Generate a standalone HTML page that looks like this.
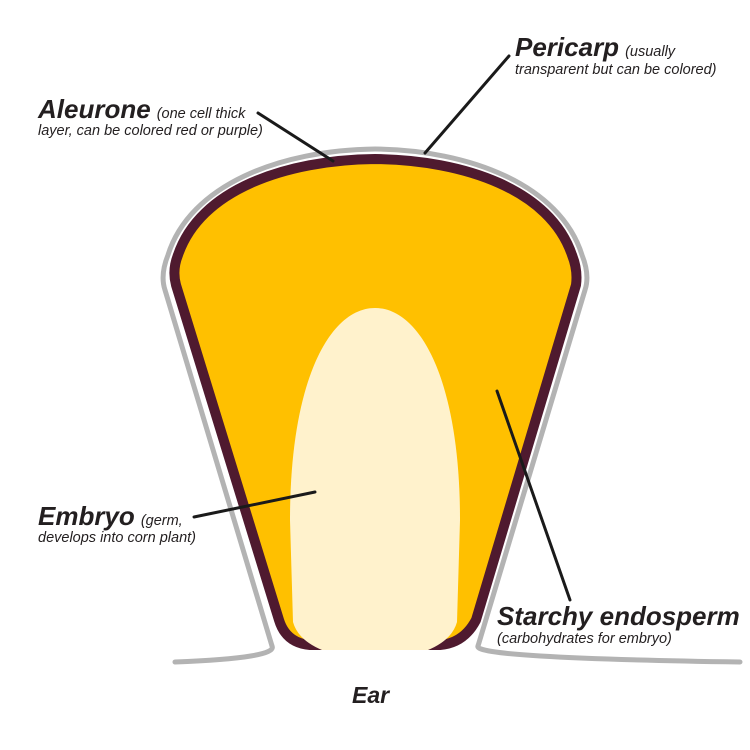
<!DOCTYPE html>
<html><head><meta charset="utf-8"><style>
html,body{margin:0;padding:0;background:#fff}
svg{display:block}
text{font-family:"Liberation Sans",sans-serif;fill:#231f20;font-style:italic}
.b{font-weight:bold;font-size:26px}
.s{font-size:14.5px}
</style></head><body>
<svg width="750" height="750" viewBox="0 0 750 750" xmlns="http://www.w3.org/2000/svg">
<path d="M272 646 L165 290 Q160 275 168 255 C190 185 280 150 375 149 C470 150 560 185 582 255 Q590 275 585 290 L478 646" fill="none" stroke="#b3b3b3" stroke-width="5" stroke-linejoin="round"/>
<path d="M272 646 Q278 658 175 662" fill="none" stroke="#b3b3b3" stroke-width="5" stroke-linecap="round"/>
<path d="M478 646 Q472 658 740 662" fill="none" stroke="#b3b3b3" stroke-width="5" stroke-linecap="round"/>
<path d="M375 159 C465 160 550 190 572 255 Q578 270 576 285 L476 620 Q464 643 440 645 L310 645 Q286 643 279 620 L176 285 Q172 270 178 255 C200 190 285 160 375 159 Z" fill="#ffc000" stroke="#4f1a2f" stroke-width="10" stroke-linejoin="round"/>
<path d="M290 520 C290 380 330 308 375 308 C420 308 460 380 460 520 L457 622 Q452 640 428 650 L322 650 Q298 640 293 622 Z" fill="#fff2cc"/>
<g stroke="#1a1a1a" stroke-width="3" stroke-linecap="round">
<line x1="258" y1="113" x2="333" y2="161"/>
<line x1="509" y1="56" x2="425" y2="153"/>
<line x1="194" y1="517" x2="315" y2="492"/>
<line x1="497" y1="391" x2="570" y2="600"/>
</g>
<text x="38" y="118"><tspan class="b">Aleurone</tspan><tspan class="s" dx="6">(one cell thick</tspan></text>
<text x="38" y="135" class="s">layer, can be colored red or purple)</text>
<text x="515" y="56"><tspan class="b">Pericarp</tspan><tspan class="s" dx="6">(usually</tspan></text>
<text x="515" y="74" class="s">transparent but can be colored)</text>
<text x="38" y="525"><tspan class="b">Embryo</tspan><tspan class="s" dx="6">(germ,</tspan></text>
<text x="38" y="542" class="s">develops into corn plant)</text>
<text x="497" y="625" class="b">Starchy endosperm</text>
<text x="497" y="643" class="s">(carbohydrates for embryo)</text>
<text x="352" y="703" style="font-weight:bold;font-size:23px">Ear</text>
</svg>
</body></html>
